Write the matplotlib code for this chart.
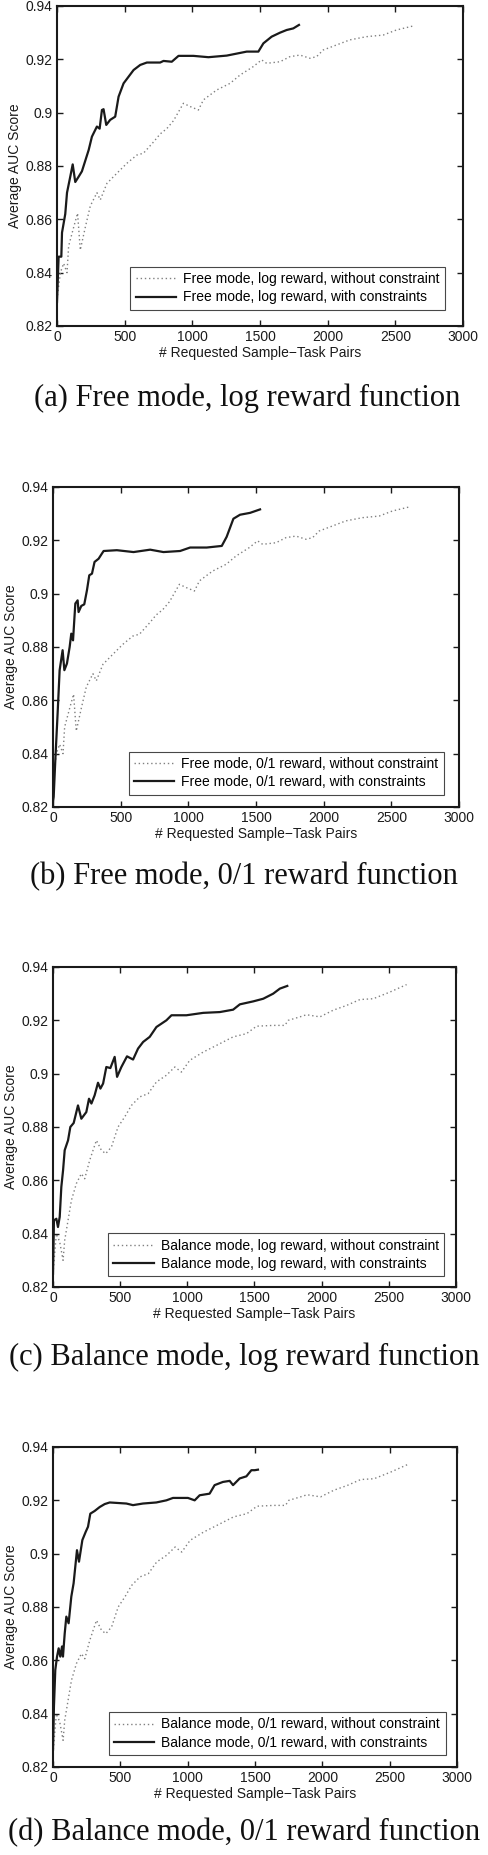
import matplotlib
matplotlib.use("Agg")
import matplotlib.pyplot as plt
from matplotlib.ticker import FuncFormatter, FixedLocator

# ---------------- data ----------------
free_log_x = [0, 12, 32, 37, 61, 74, 98, 116, 135, 160, 184, 209, 234, 258, 295, 315, 332, 344,
              364, 393, 430, 455, 492, 529, 566, 615, 664, 762, 787, 848, 898, 1008, 1119, 1254,
              1402, 1488, 1525, 1586, 1648, 1697, 1746, 1788]
free_log_y = [0.829, 0.846, 0.846, 0.855, 0.862, 0.870, 0.876, 0.8806, 0.874, 0.876, 0.878, 0.882,
              0.886, 0.891, 0.8948, 0.894, 0.901, 0.9013, 0.8954, 0.8973, 0.8985, 0.906, 0.911,
              0.9135, 0.916, 0.9179, 0.9188, 0.9188, 0.9194, 0.9191, 0.9213, 0.9213, 0.9208,
              0.9214, 0.9229, 0.9229, 0.926, 0.9285, 0.930, 0.931, 0.9316, 0.9329]

free_01_x = [0, 5, 17, 34, 49, 71, 84, 103, 123, 135, 148, 165, 182, 189, 209, 231, 251, 268, 288,
             307, 337, 361, 374, 472, 595, 718, 816, 939, 1013, 1136, 1247, 1283, 1333, 1382,
             1456, 1530]
free_01_y = [0.822, 0.8238, 0.8375, 0.855, 0.8713, 0.8788, 0.8713, 0.8738, 0.880, 0.885, 0.8825,
             0.8963, 0.8975, 0.8931, 0.8954, 0.896, 0.9013, 0.9069, 0.9075, 0.9119, 0.9131,
             0.915, 0.916, 0.9163, 0.9156, 0.9165, 0.9156, 0.916, 0.9173, 0.9173, 0.9179,
             0.9213, 0.9281, 0.9296, 0.9303, 0.9316]

free_base_x = [0, 25, 49, 74, 86, 123, 152, 172, 209, 246, 295, 320, 369, 443, 516, 590, 639,
               713, 762, 811, 861, 934, 984, 1045, 1082, 1180, 1279, 1352, 1451, 1512, 1549,
               1648, 1721, 1795, 1869, 1918, 1967, 2066, 2164, 2287, 2410, 2508, 2631]
free_base_y = [0.830, 0.840, 0.8435, 0.840, 0.850, 0.857, 0.8623, 0.8485, 0.857, 0.865, 0.870,
               0.8673, 0.8735, 0.8773, 0.881, 0.8841, 0.8848, 0.889, 0.892, 0.894, 0.897,
               0.9035, 0.9023, 0.901, 0.9048, 0.9085, 0.911, 0.9141, 0.9173, 0.9198, 0.9185,
               0.9191, 0.921, 0.9216, 0.9204, 0.921, 0.9235, 0.9254, 0.9273, 0.9285, 0.9291,
               0.931, 0.9325]

bal_log_x = [0, 7, 25, 37, 50, 62, 75, 87, 112, 129, 154, 186, 211, 248, 268, 286, 310, 335, 353,
             373, 397, 427, 459, 477, 509, 551, 596, 633, 671, 720, 770, 844, 882, 993, 1118,
             1242, 1341, 1391, 1490, 1565, 1639, 1689, 1744]
bal_log_y = [0.825, 0.845, 0.8456, 0.8425, 0.8463, 0.8575, 0.8638, 0.8713, 0.875, 0.880, 0.8815,
             0.8881, 0.8831, 0.8856, 0.8906, 0.8888, 0.8919, 0.8966, 0.8944, 0.8963, 0.9025,
             0.9021, 0.9063, 0.8988, 0.9025, 0.9065, 0.9053, 0.9094, 0.9119, 0.9138, 0.9175,
             0.920, 0.9219, 0.9219, 0.9228, 0.9231, 0.924, 0.926, 0.9271, 0.9281, 0.930,
             0.9319, 0.9329]

bal_01_x = [0, 7, 17, 30, 42, 54, 67, 74, 87, 99, 116, 136, 153, 178, 193, 218, 243, 260, 277,
            309, 347, 384, 421, 545, 594, 668, 767, 842, 891, 1002, 1052, 1089, 1163, 1200, 1262,
            1312, 1337, 1386, 1436, 1473, 1498, 1522]
bal_01_y = [0.8265, 0.8427, 0.8564, 0.8614, 0.8645, 0.8614, 0.8652, 0.8614, 0.8701, 0.8764,
            0.8739, 0.8839, 0.8889, 0.9013, 0.897, 0.9051, 0.9082, 0.9101, 0.915, 0.916, 0.9175,
            0.9186, 0.9192, 0.9188, 0.9182, 0.9188, 0.9192, 0.920, 0.9209, 0.9209, 0.920,
            0.9219, 0.9225, 0.9257, 0.9269, 0.9273, 0.9257, 0.9282, 0.929, 0.9313, 0.9313, 0.9315]

bal_base_x = [0, 25, 50, 75, 87, 112, 137, 174, 211, 236, 273, 323, 360, 392, 435, 484, 534, 584,
              646, 708, 770, 844, 907, 956, 1018, 1118, 1217, 1341, 1440, 1515, 1639, 1726, 1751,
              1838, 1887, 1987, 2086, 2186, 2285, 2384, 2508, 2632]
bal_base_y = [0.825, 0.840, 0.8369, 0.830, 0.8375, 0.845, 0.8525, 0.8588, 0.8625, 0.8606, 0.8675,
              0.875, 0.8713, 0.870, 0.8725, 0.880, 0.8838, 0.8881, 0.8913, 0.8925, 0.8969,
              0.8994, 0.9025, 0.9006, 0.905, 0.9081, 0.9106, 0.9138, 0.915, 0.9178, 0.9181,
              0.9181, 0.920, 0.9213, 0.9221, 0.9213, 0.9238, 0.9256, 0.9278, 0.9281, 0.9306,
              0.9334]

x_ticks = [0, 500, 1000, 1500, 2000, 2500, 3000]
y_ticks = [0.82, 0.84, 0.86, 0.88, 0.90, 0.92, 0.94]

panels = [
    dict(base=(free_base_x, free_base_y), cons=(free_log_x, free_log_y),
         lab_base="Free mode, log reward, without constraint",
         lab_cons="Free mode, log reward, with constraints",
         caption="(a) Free mode, log reward function"),
    dict(base=(free_base_x, free_base_y), cons=(free_01_x, free_01_y),
         lab_base="Free mode, 0/1 reward, without constraint",
         lab_cons="Free mode, 0/1 reward, with constraints",
         caption="(b) Free mode, 0/1 reward function"),
    dict(base=(bal_base_x, bal_base_y), cons=(bal_log_x, bal_log_y),
         lab_base="Balance mode, log reward, without constraint",
         lab_cons="Balance mode, log reward, with constraints",
         caption="(c) Balance mode, log reward function"),
    dict(base=(bal_base_x, bal_base_y), cons=(bal_01_x, bal_01_y),
         lab_base="Balance mode, 0/1 reward, without constraint",
         lab_cons="Balance mode, 0/1 reward, with constraints",
         caption="(d) Balance mode, 0/1 reward function"),
]

# ---------------- layout (pixels) ----------------
W, H = 488, 1855
axes_px = [(57, 6, 463, 326), (53, 487, 459, 807), (53, 967, 456, 1287), (53, 1447, 457, 1767)]
legend_anchor = [(0.956, 0.05), (0.963, 0.038), (0.971, 0.033), (0.972, 0.037)]
caption_y = [398, 877, 1357, 1833]
caption_x = [247, 244, 244, 244]

plt.rcParams['font.family'] = ['Liberation Sans', 'DejaVu Sans']
fig = plt.figure(figsize=(W / 100, H / 100), dpi=100)

for p, (l, t, r, b), anc, cy, cx in zip(panels, axes_px, legend_anchor, caption_y, caption_x):
    ax = fig.add_axes([l / W, 1 - b / H, (r - l) / W, (b - t) / H])
    ax.plot(*p['base'], linestyle=(0, (1, 2)), color='#808080', lw=1.0, label=p['lab_base'])
    ax.plot(*p['cons'], linestyle='-', color='#1a1a1a', lw=1.6, label=p['lab_cons'])
    ax.set_xlim(0, 3000)
    ax.set_ylim(0.82, 0.94)
    ax.xaxis.set_major_locator(FixedLocator(x_ticks))
    ax.yaxis.set_major_locator(FixedLocator(y_ticks))
    ax.yaxis.set_major_formatter(FuncFormatter(lambda v, pos: f"{v:g}"))
    ax.tick_params(direction='in', top=True, right=True, length=4, width=1.0,
                   labelsize=10, pad=3, colors='#1a1a1a')
    for s in ax.spines.values():
        s.set_linewidth(1.5)
        s.set_color('#1a1a1a')
    ax.set_xlabel("# Requested Sample\u2212Task Pairs", fontsize=10, labelpad=1, color='#1a1a1a')
    ax.set_ylabel("Average AUC Score", fontsize=10, labelpad=3, color='#1a1a1a')
    leg = ax.legend(loc='lower right', bbox_to_anchor=anc, fontsize=10, frameon=True,
                    fancybox=False, edgecolor='#1a1a1a', handlelength=2.9, borderpad=0.4,
                    labelspacing=0.3, handletextpad=0.5, borderaxespad=0)
    leg.get_frame().set_linewidth(0.8)
    fig.text(cx / W, 1 - cy / H, p['caption'], ha='center', va='center',
             fontsize=22, family=['Liberation Serif', 'DejaVu Serif'], color='#111111')

fig.savefig("out.png", dpi=100)
